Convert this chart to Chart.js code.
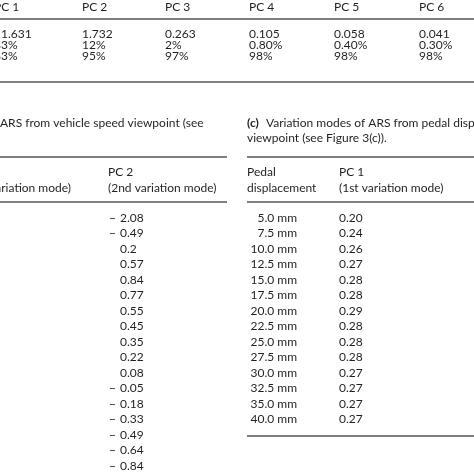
<!DOCTYPE html>
<html>
<head>
<meta charset="utf-8">
<script src="https://cdn.jsdelivr.net/npm/chart.js@4"></script>
<style>
  html, body { margin: 0; padding: 0; background: #fff; }
  #c { display: block; }
</style>
</head>
<body>
<canvas id="c" width="474" height="474"></canvas>
<script>
// ── Datos: tabla superior (autovalores) ───────────────────────
const pcHeaders   = ['PC 1', 'PC 2', 'PC 3', 'PC 4', 'PC 5', 'PC 6'];
const eigenvalues = ['11.631', '1.732', '0.263', '0.105', '0.058', '0.041'];
const variancePct = ['83%', '12%', '2%', '0.80%', '0.40%', '0.30%'];
const cumulPct    = ['83%', '95%', '97%', '98%', '98%', '98%'];

// ── Datos: (b) velocidad del vehículo, PC 2 ───────────────────
const speedPC2 = [-2.08, -0.49, 0.2, 0.57, 0.84, 0.77, 0.55, 0.45, 0.35,
                  0.22, 0.08, -0.05, -0.18, -0.33, -0.49, -0.64, -0.84];

// ── Datos: (c) desplazamiento del pedal, PC 1 ─────────────────
const pedalLabels = ['5.0 mm', '7.5 mm', '10.0 mm', '12.5 mm', '15.0 mm', '17.5 mm', '20.0 mm',
                     '22.5 mm', '25.0 mm', '27.5 mm', '30.0 mm', '32.5 mm', '35.0 mm', '40.0 mm'];
const pedalPC1    = ['0.20', '0.24', '0.26', '0.27', '0.28', '0.28', '0.29',
                     '0.28', '0.28', '0.28', '0.27', '0.27', '0.27', '0.27'];

// ── Layout ────────────────────────────────────────────────────
const INK = '#231f20';
const FONT = '12px Lato, "DejaVu Sans", sans-serif';
const topCols = [-6, 82, 165, 249, 334, 419];
const ROW0 = 218, ROWH = 15.5;

// puntos con texto: {x, y, t, align}
const texts = [];
pcHeaders.forEach((h, i) => texts.push({ x: topCols[i], y: 7, t: h }));
eigenvalues.forEach((v, i) => texts.push({ x: topCols[i], y: 34, t: v }));
variancePct.forEach((v, i) => texts.push({ x: topCols[i], y: 45, t: v }));
cumulPct.forEach((v, i) => texts.push({ x: topCols[i], y: 56, t: v }));

texts.push({ x: 0, y: 123, t: 'ARS from vehicle speed viewpoint (see' });
texts.push({ x: 247, y: 123, t: '(c)', bold: true });
texts.push({ x: 266, y: 123, t: 'Variation modes of ARS from pedal displacement' });
texts.push({ x: 247, y: 138, t: 'viewpoint (see Figure 3(c)).' });

texts.push({ x: 71, y: 188, t: '(1st variation mode)', align: 'right' });
texts.push({ x: 108, y: 172, t: 'PC 2' });
texts.push({ x: 108, y: 188, t: '(2nd variation mode)' });
texts.push({ x: 247, y: 172, t: 'Pedal' });
texts.push({ x: 247, y: 188, t: 'displacement' });
texts.push({ x: 339, y: 172, t: 'PC 1' });
texts.push({ x: 339, y: 188, t: '(1st variation mode)' });

speedPC2.forEach((v, i) => {
  const y = ROW0 + i * ROWH;
  if (v < 0) texts.push({ x: 109, y, t: '\u2212' });
  texts.push({ x: 120, y, t: Math.abs(v).toString() });
});
pedalLabels.forEach((l, i) => {
  const y = ROW0 + i * ROWH;
  texts.push({ x: 297, y, t: l, align: 'right' });
  texts.push({ x: 339, y, t: pedalPC1[i] });
});

// reglas horizontales
const rules = [
  [0, 474, 19], [0, 474, 82],
  [0, 227, 157], [0, 227, 202],
  [247, 474, 157], [247, 474, 202], [247, 474, 436]
];

const ruleSets = rules.map(r => ({
  type: 'line',
  data: [{ x: r[0], y: r[2] }, { x: r[1], y: r[2] }],
  borderColor: '#555',
  borderWidth: 1.5,
  pointRadius: 0
}));

// ── Plugin para escribir el texto en las posiciones de escala ─
const textPlugin = {
  id: 'tableText',
  afterDatasetsDraw(chart) {
    const ctx = chart.ctx;
    const meta = chart.getDatasetMeta(0);
    ctx.save();
    ctx.fillStyle = INK;
    ctx.textBaseline = 'middle';
    texts.forEach((p, i) => {
      const el = meta.data[i];
      ctx.font = p.bold ? 'bold ' + FONT : FONT;
      ctx.textAlign = p.align || 'left';
      ctx.fillText(p.t, el.x, el.y);
    });
    ctx.restore();
  }
};

new Chart(document.getElementById('c'), {
  type: 'scatter',
  data: {
    datasets: [
      { data: texts.map(p => ({ x: p.x, y: p.y })), pointRadius: 0 },
      ...ruleSets
    ]
  },
  options: {
    responsive: false,
    animation: false,
    layout: { padding: 0 },
    plugins: { legend: { display: false }, tooltip: { enabled: false } },
    scales: {
      x: { type: 'linear', min: 0, max: 474, display: false },
      y: { type: 'linear', min: 0, max: 474, reverse: true, display: false }
    }
  },
  plugins: [textPlugin]
});
</script>
</body>
</html>
